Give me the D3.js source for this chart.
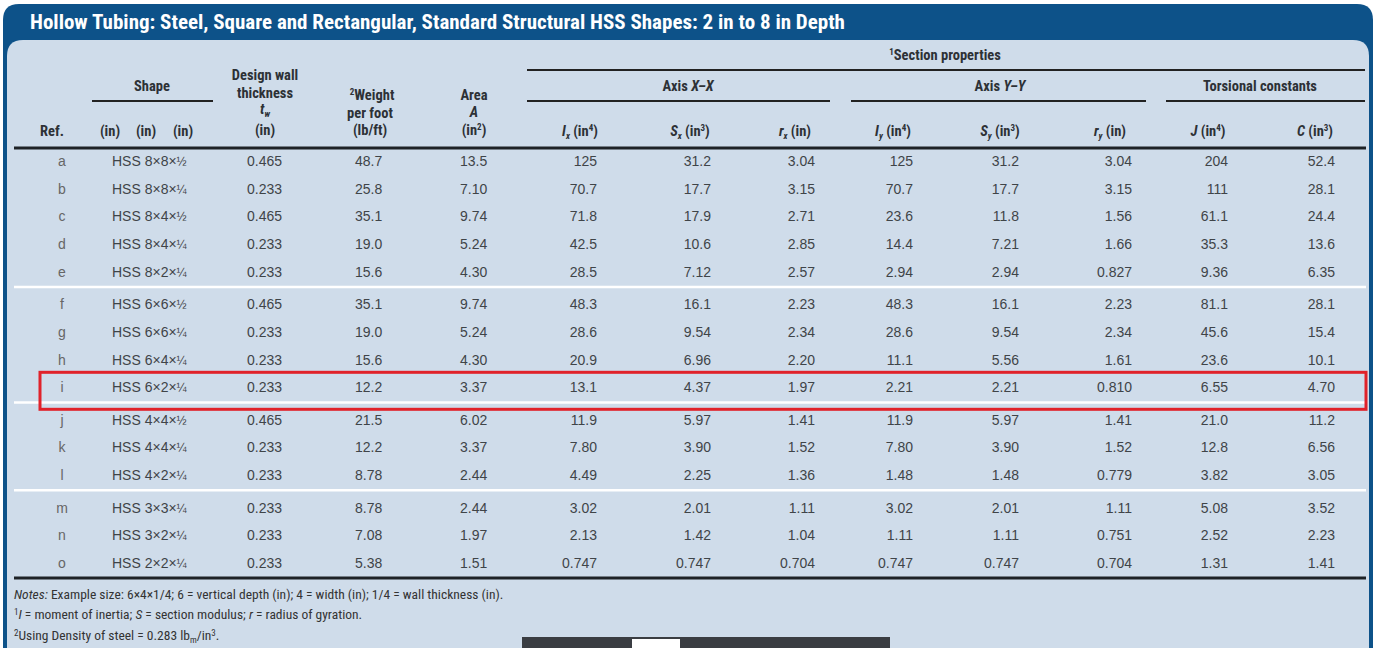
<!DOCTYPE html>
<html><head><meta charset="utf-8">
<script src="https://cdn.jsdelivr.net/npm/d3@7"></script>
<style>body{margin:0;background:#fff}svg{display:block}
text{font-family:"Liberation Sans Narrow","Roboto Condensed","DejaVu Sans Condensed",sans-serif}
text.body{font-family:"Liberation Sans",Arial,sans-serif}</style>
</head><body><svg id="c" width="1377" height="648"></svg>
<script>
const refs=["a","b","c","d","e","f","g","h","i","j","k","l","m","n","o"];
const groups=[0,0,0,0,0,1,1,1,1,2,2,2,3,3,3];
const shapeDepth=["8","8","8","8","8","6","6","6","6","4","4","4","3","3","2"];
const shapeWidth=["8","8","4","4","2","6","6","4","2","4","4","2","3","2","2"];
const shapeWall=["½","¼","½","¼","¼","½","¼","¼","¼","½","¼","¼","¼","¼","¼"];
const tw=["0.465","0.233","0.465","0.233","0.233","0.465","0.233","0.233","0.233","0.465","0.233","0.233","0.233","0.233","0.233"];
const weight=["48.7","25.8","35.1","19.0","15.6","35.1","19.0","15.6","12.2","21.5","12.2","8.78","8.78","7.08","5.38"];
const area=["13.5","7.10","9.74","5.24","4.30","9.74","5.24","4.30","3.37","6.02","3.37","2.44","2.44","1.97","1.51"];
const Ix=["125","70.7","71.8","42.5","28.5","48.3","28.6","20.9","13.1","11.9","7.80","4.49","3.02","2.13","0.747"];
const Sx=["31.2","17.7","17.9","10.6","7.12","16.1","9.54","6.96","4.37","5.97","3.90","2.25","2.01","1.42","0.747"];
const rx=["3.04","3.15","2.71","2.85","2.57","2.23","2.34","2.20","1.97","1.41","1.52","1.36","1.11","1.04","0.704"];
const Iy=["125","70.7","23.6","14.4","2.94","48.3","28.6","11.1","2.21","11.9","7.80","1.48","3.02","1.11","0.747"];
const Sy=["31.2","17.7","11.8","7.21","2.94","16.1","9.54","5.56","2.21","5.97","3.90","1.48","2.01","1.11","0.747"];
const ry=["3.04","3.15","1.56","1.66","0.827","2.23","2.34","1.61","0.810","1.41","1.52","0.779","1.11","0.751","0.704"];
const J=["204","111","61.1","35.3","9.36","81.1","45.6","23.6","6.55","21.0","12.8","3.82","5.08","2.52","1.31"];
const C=["52.4","28.1","24.4","13.6","6.35","28.1","15.4","10.1","4.70","11.2","6.56","3.05","3.52","2.23","1.41"];
const highlight="i";

const svg=d3.select("#c");
svg.append("path").attr("d","M3,648 V20 Q3,4 19,4 H1357 Q1373,4 1373,20 V648 Z").attr("fill","#0d5289");
svg.append("path").attr("d","M7,648 V56 Q7,40 23,40 H1353 Q1369,40 1369,56 V648 Z").attr("fill","#cfdcea");
svg.append("text").attr("x",30).attr("y",29).attr("fill","#fff").attr("font-size",21).attr("font-weight","bold")
  .text("Hollow Tubing: Steel, Square and Rectangular, Standard Structural HSS Shapes: 2 in to 8 in Depth");

const y=d3.scaleLinear().domain([0,1]).range([161,188.7]);
const slot=i=>i+groups[i]*0.17;
const ink="#3f4448", hd="#2d3136";

function hline(x1,x2,yy,w,c){svg.append("line").attr("x1",x1).attr("x2",x2).attr("y1",yy).attr("y2",yy).attr("stroke",c||"#222").attr("stroke-width",w);}
function ht(x,yy,txt,opt={}){const t=svg.append("text").attr("x",x).attr("y",yy).attr("text-anchor",opt.a||"middle")
  .attr("font-size",opt.s||14.5).attr("font-weight","bold").attr("fill",hd);
  if(typeof txt==="function")txt(t);else t.text(txt);return t;}
ht(945,60,t=>{t.append("tspan").attr("font-size",9).attr("dy",-5).text("1");t.append("tspan").attr("dy",5).text("Section properties");});
hline(527,1365,70,2);
ht(688,91,t=>{t.append("tspan").text("Axis ");t.append("tspan").attr("font-style","italic").text("X–X");});
ht(1000,91,t=>{t.append("tspan").text("Axis ");t.append("tspan").attr("font-style","italic").text("Y–Y");});
ht(1260,91,"Torsional constants");
hline(527,830,101,2);hline(851,1146,101,2);hline(1166,1365,101,2);
ht(152,91,"Shape");hline(92,213,101,2);
ht(265,80,"Design wall");ht(265,98,"thickness");ht(265,114,t=>t.append("tspan").attr("font-style","italic").text("t").append("tspan").attr("font-size",9).attr("dy",3).text("w"));ht(265,135,"(in)");
ht(372,100,t=>{t.append("tspan").attr("font-size",9).attr("dy",-5).text("2");t.append("tspan").attr("dy",5).text("Weight");});ht(370,118,"per foot");ht(370,135,"(lb/ft)");
ht(474,100,"Area");ht(474,117,t=>t.append("tspan").attr("font-style","italic").text("A"));ht(474,135,t=>{t.append("tspan").text("(in");t.append("tspan").attr("font-size",9).attr("dy",-5).text("2");t.append("tspan").attr("dy",5).text(")");});
ht(52,136,"Ref.");ht(110,136,"(in)");ht(146,136,"(in)");ht(183,136,"(in)");
const colH=[[580,"I","x","4"],[690,"S","x","3"],[795,"r","x",null],[893,"I","y","4"],[1000,"S","y","3"],[1110,"r","y",null],[1208,"J",null,"4"],[1315,"C",null,"3"]];
colH.forEach(([x,v,sub,pw])=>ht(x,136,t=>{t.append("tspan").attr("font-style","italic").text(v);
  if(sub)t.append("tspan").attr("font-style","italic").attr("font-size",9).attr("dy",3).text(sub);
  t.append("tspan").attr("dy",sub?-3:0).text(" (in");
  if(pw){t.append("tspan").attr("font-size",9).attr("dy",-5).text(pw);t.append("tspan").attr("dy",5).text(")");}
  else t.append("tspan").text(")");}));
hline(14,1366,148,3,"#1e2226");
[4,8,11].forEach(i=>hline(14,1366,(y(slot(i))+y(slot(i+1)))/2-1,2.5,"#fff"));
hline(14,1366,578,3,"#1e2226");

const cols=[
 {d:tw,x:247,a:"start"},{d:weight,x:355,a:"start"},{d:area,x:460,a:"start"},
 {d:Ix,x:597,a:"end"},{d:Sx,x:711,a:"end"},{d:rx,x:815,a:"end"},
 {d:Iy,x:913,a:"end"},{d:Sy,x:1019,a:"end"},{d:ry,x:1132,a:"end"},
 {d:J,x:1228,a:"end"},{d:C,x:1335,a:"end"}];
const rows=svg.append("g").selectAll("g").data(refs).join("g").attr("transform",(d,i)=>`translate(0,${y(slot(i))+5})`);
rows.append("text").attr("class","body").attr("x",62).attr("text-anchor","middle").attr("font-size",14).attr("fill","#666").text(d=>d);
rows.append("text").attr("class","body").attr("x",112).attr("font-size",14).attr("fill",ink).each(function(d,i){const t=d3.select(this);
  t.append("tspan").text(`HSS ${shapeDepth[i]}×${shapeWidth[i]}×`);t.append("tspan").attr("font-size",12).text(shapeWall[i]);});
cols.forEach(c=>rows.append("text").attr("class","body").attr("x",c.x).attr("text-anchor",c.a).attr("font-size",14).attr("fill",ink).text((d,i)=>c.d[i]));
const hi=refs.indexOf(highlight);
svg.append("rect").attr("x",40).attr("y",y(slot(hi))-15).attr("width",1326).attr("height",37).attr("fill","none").attr("stroke","#e0222a").attr("stroke-width",3);

const nt=(yy,f)=>{const t=svg.append("text").attr("x",14).attr("y",yy).attr("font-size",13.5).attr("fill","#333");f(t);};
nt(599,t=>{t.append("tspan").attr("font-style","italic").text("Notes:");t.append("tspan").text(" Example size: 6×4×1/4; 6 = vertical depth (in); 4 = width (in); 1/4 = wall thickness (in).");});
nt(619,t=>{t.append("tspan").attr("font-size",9).attr("dy",-4).text("1");t.append("tspan").attr("dy",4).attr("font-style","italic").text("I");t.append("tspan").text(" = moment of inertia; ");t.append("tspan").attr("font-style","italic").text("S");t.append("tspan").text(" = section modulus; ");t.append("tspan").attr("font-style","italic").text("r");t.append("tspan").text(" = radius of gyration.");});
nt(640,t=>{t.append("tspan").attr("font-size",9).attr("dy",-4).text("2");t.append("tspan").attr("dy",4).text("Using Density of steel = 0.283 lb");t.append("tspan").attr("font-size",9).attr("dy",3).text("m");t.append("tspan").attr("dy",-3).text("/in");t.append("tspan").attr("font-size",9).attr("dy",-4).text("3");t.append("tspan").attr("dy",4).text(".");});
svg.append("rect").attr("x",522).attr("y",637).attr("width",368).attr("height",11).attr("fill","#3a3d42");
svg.append("rect").attr("x",632).attr("y",639).attr("width",48).attr("height",9).attr("fill","#fff");
</script></body></html>
